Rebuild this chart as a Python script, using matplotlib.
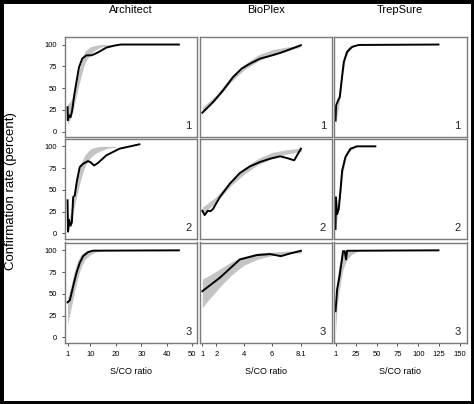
import matplotlib
matplotlib.use("Agg")
import matplotlib.pyplot as plt
from matplotlib.patches import Rectangle

plt.rcParams['font.family'] = ['Liberation Sans', 'DejaVu Sans']

# column titles, row numbers, axis text
assays = ["Architect", "BioPlex", "TrepSure"]
rows = ["1", "2", "3"]
y_label = "Confirmation rate (percent)"
x_label = "S/CO ratio"
y_ticks = [0, 25, 50, 75, 100]

arch_ticks = [1, 10, 20, 30, 40, 50]
bio_ticks = [1, 2, 4, 6, 8.1]
bio_ticklabels = ["1", "2", "4", "6", "8.1"]
trep_ticks = [1, 25, 50, 75, 100, 125, 150]

# ---- Architect ----
arch1_x = [1, 1.1, 1.6, 2.2, 2.8, 3.6, 4.5, 5.5, 6.8, 8.4, 10.3, 11.6, 13.6, 16.2, 19.4, 22, 44.7]
arch1_y = [28, 13, 18.5, 16.5, 24, 41.5, 57, 74, 84, 87.6, 87.6, 89, 92, 96.5, 98.8, 100, 100]
arch1_bx = [1, 2, 3, 4, 5, 6, 7, 8, 10, 12, 14, 17, 20]
arch1_lo = [8, 14, 23, 35, 48, 60, 71, 80, 89, 94, 97, 99, 100]
arch1_hi = [32, 34, 40, 50, 63, 76, 86, 93, 97.5, 99, 100, 100, 100]

arch2_x = [1, 1.2, 1.6, 2.2, 2.7, 3.2, 3.8, 4.7, 5.8, 7.1, 9.0, 9.9, 11.4, 12.9, 16.2, 21.4, 29.2]
arch2_y = [38, 2, 15.4, 8.8, 12.7, 41.6, 43.4, 60.7, 76.2, 80, 83, 82, 78, 80.8, 89.6, 97.3, 102.3]
arch2_bx = [1, 2, 3, 4, 5, 6, 7, 8, 10, 12, 14, 17, 20]
arch2_lo = [0, 10, 22, 35, 48, 60, 70, 78, 87, 92, 95, 98, 99]
arch2_hi = [10, 22, 36, 50, 64, 76, 85, 91, 97, 99, 100, 100, 100]

arch3_x = [1, 1.9, 3.2, 4.5, 5.8, 7.1, 9.0, 11, 44.7]
arch3_y = [40.3, 42.6, 58.8, 74, 85.7, 93.3, 98, 99.6, 100]
arch3_bx = [1, 2, 3, 4, 5, 6, 7, 8, 10, 12, 15]
arch3_lo = [15, 28, 42, 56, 68, 78, 85, 90, 95, 98, 99.5]
arch3_hi = [45, 55, 68, 80, 88, 94, 97, 98.5, 99.5, 100, 100]

# ---- BioPlex ----
bio1_x = [1, 1.77, 2.49, 3.21, 3.82, 4.42, 5.14, 5.86, 6.58, 7.3, 8.07]
bio1_y = [21.6, 33.8, 47.3, 62.7, 72.3, 78, 83.8, 86.9, 90.3, 94.6, 99.2]
bio1_bx = [1, 2, 3, 4, 5, 6, 7, 8]
bio1_lo = [21, 37, 56, 71, 81, 88, 92, 97]
bio1_hi = [28, 42, 62, 77, 88, 94, 97, 99]

bio2_x = [1, 1.17, 1.4, 1.58, 1.77, 2.25, 2.97, 3.69, 4.42, 5.14, 5.86, 6.58, 7.06, 7.59, 8.07]
bio2_y = [26, 21, 26, 25.4, 28, 41.5, 57, 69.3, 77, 82, 85.8, 88.5, 86.6, 83.9, 97.3]
bio2_bx = [1, 2, 3, 4, 5, 6, 7, 8.1]
bio2_lo = [22, 36, 54, 68, 79, 86, 91, 94]
bio2_hi = [30, 42, 60, 75, 86, 93, 96, 98]

bio3_x = [1, 2.25, 3.69, 4.9, 5.86, 6.63, 7.3, 8.07]
bio3_y = [53, 68.4, 89.5, 94.5, 95.7, 93.3, 96.4, 99.5]
bio3_bx = [1, 1.5, 2, 2.5, 3, 3.5, 4, 5, 6, 7, 8.1]
bio3_lo = [34, 44, 53, 62, 70, 77, 83, 90, 94, 96, 97]
bio3_hi = [67, 71, 76, 81, 86, 90, 93, 97, 98, 99, 99.5]

# ---- TrepSure ----
trep1_x = [1, 1.7, 4.1, 6.1, 8.1, 10.9, 14.8, 20.8, 28.7, 124]
trep1_y = [12.7, 30, 35.8, 39.6, 57, 80, 91.5, 97.3, 99.5, 100]
trep1_bx = [1, 5, 8, 10, 13, 16, 20, 25]
trep1_lo = [8, 30, 50, 68, 84, 91, 96, 99]
trep1_hi = [20, 45, 65, 80, 92, 97, 99, 100]

trep2_x = [1, 1.5, 2.9, 4.9, 6.9, 8.9, 12.9, 18.9, 26.7, 48.6]
trep2_y = [5, 41.5, 22, 28, 49, 72, 87.8, 97.3, 100, 100]
trep2_bx = [1, 4, 7, 10, 13, 16, 20, 25]
trep2_lo = [5, 25, 45, 70, 85, 92, 96, 99]
trep2_hi = [15, 38, 60, 80, 92, 97, 99, 100]

trep3_x = [1, 2.9, 5.8, 8.1, 10, 12, 13.6, 14.8, 124]
trep3_y = [30, 55, 70.3, 85.7, 99, 99, 89.5, 99.5, 100]
trep3_bx = [1, 3, 5, 8, 10, 13, 16, 20, 25, 30]
trep3_lo = [5, 35, 52, 68, 78, 86, 91, 95, 98, 99]
trep3_hi = [45, 68, 82, 93, 97, 99, 100, 100, 100, 100]

panels = [
    [(arch1_x, arch1_y, arch1_bx, arch1_lo, arch1_hi),
     (bio1_x, bio1_y, bio1_bx, bio1_lo, bio1_hi),
     (trep1_x, trep1_y, trep1_bx, trep1_lo, trep1_hi)],
    [(arch2_x, arch2_y, arch2_bx, arch2_lo, arch2_hi),
     (bio2_x, bio2_y, bio2_bx, bio2_lo, bio2_hi),
     (trep2_x, trep2_y, trep2_bx, trep2_lo, trep2_hi)],
    [(arch3_x, arch3_y, arch3_bx, arch3_lo, arch3_hi),
     (bio3_x, bio3_y, bio3_bx, bio3_lo, bio3_hi),
     (trep3_x, trep3_y, trep3_bx, trep3_lo, trep3_hi)],
]

xlims = [(0, 52), (0.8, 10.3), (-0.8, 157.5)]
W, H = 474, 404
col_left = [65, 199.5, 334]
col_w = 132.5
row_top = [36.7, 138.5, 242.5]
row_h = 100.5

fig = plt.figure(figsize=(W / 100, H / 100), dpi=100)
fig.patch.set_facecolor('white')

for r in range(3):
    for c in range(3):
        ax = fig.add_axes([col_left[c] / W, 1 - (row_top[r] + row_h) / H, col_w / W, row_h / H])
        lx, ly, bx, lo, hi = panels[r][c]
        ax.fill_between(bx, lo, hi, color='#c4c4c4', linewidth=0)
        ax.plot(lx, ly, color='black', linewidth=1.4)
        ax.set_xlim(*xlims[c])
        ax.set_ylim(-6.5, 109)
        for s in ax.spines.values():
            s.set_edgecolor('#7a7a7a')
            s.set_linewidth(1.0)
        ax.text(0.955, 0.06, rows[r], transform=ax.transAxes, ha='right', va='bottom',
                fontsize=8, color='#222222')
        ax.tick_params(direction='out', length=2.5, width=0.6, color='#333333',
                       labelsize=5.5, pad=3)
        if c == 0:
            ax.set_yticks(y_ticks)
        else:
            ax.set_yticks([])
        if r == 2:
            if c == 0:
                ax.set_xticks(arch_ticks)
            elif c == 1:
                ax.set_xticks(bio_ticks)
                ax.set_xticklabels(bio_ticklabels)
            else:
                ax.set_xticks(trep_ticks)
            ax.set_xlabel(x_label, fontsize=6.5, labelpad=7)
        else:
            ax.set_xticks([])
        if r == 0:
            ax.set_title(assays[c], fontsize=8, pad=17)

fig.text(11 / W, 1 - 191 / H, y_label, rotation=90, ha='center', va='center', fontsize=9.5)

fig.patches.append(Rectangle((0, 0), 1, 1, transform=fig.transFigure, fill=False,
                             edgecolor='black', linewidth=5))

fig.savefig("out.png", dpi=100)
